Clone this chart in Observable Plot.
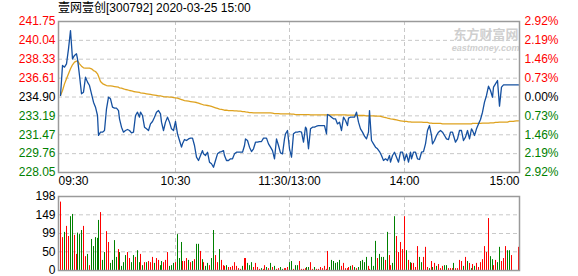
<!DOCTYPE html>
<html><head><meta charset="utf-8">
<script src="https://cdn.jsdelivr.net/npm/d3@7"></script>
<script src="https://cdn.jsdelivr.net/npm/@observablehq/plot@0.6"></script>
<style>
body{margin:0;background:#fff;font-family:"Liberation Sans",Arial,"Noto Sans CJK SC",sans-serif;}
#wrap{position:relative;width:578px;height:276px;overflow:hidden;background:#fff;}
#title{position:absolute;left:58px;top:1px;font-size:12px;line-height:14px;color:#000;white-space:nowrap;font-family:"Liberation Sans",Arial,"Noto Sans CJK SC",sans-serif;}
#price{position:absolute;left:0;top:0;}
#vol{position:absolute;left:0;top:190px;}
</style></head><body>
<div id="wrap"><div id="price"></div><div id="vol"></div><div id="title">壹网壹创[300792] 2020-03-25 15:00</div></div>
<script>
// ---- data ----
const timeLabels = ["09:30","10:30","11:30/13:00","14:00","15:00"];
const timeTickIdx = [0,60,120,180,240];
const priceTicks = [241.75,240.04,238.33,236.61,234.90,233.19,231.47,229.76,228.05];
const pctTicks = ["2.92%","2.19%","1.46%","0.73%","0.00%","0.73%","1.46%","2.19%","2.92%"];
const prevClose = 234.90;
const volTicks = [198,149,99,50,0];

const price = [
235.04,237.76,237.61,237.91,239.27,240.93,238.36,238.67,238.82,238.36,
236.85,235.19,235.34,236.70,236.25,235.94,235.19,234.43,233.98,233.22,
231.41,231.71,231.71,231.86,233.83,234.88,234.73,233.98,233.89,233.89,
233.67,232.92,232.16,231.71,231.86,231.95,231.86,231.65,231.71,233.22,
233.52,233.07,233.52,233.22,232.16,232.01,231.86,232.46,232.68,233.07,
233.52,233.67,233.37,232.62,231.86,232.62,233.07,232.62,232.01,231.86,
232.68,231.56,230.95,230.35,230.65,231.04,230.95,231.10,231.17,231.17,
230.50,229.44,229.14,229.59,230.04,229.74,229.59,229.89,228.99,228.84,
228.53,229.14,229.74,229.89,229.95,230.04,229.59,229.14,229.14,229.29,
229.29,229.74,229.89,229.89,229.89,229.89,230.50,231.10,230.95,230.35,
229.95,230.20,230.80,230.80,230.86,230.86,231.17,231.17,231.17,230.65,
230.35,230.04,229.29,231.10,230.50,229.83,229.74,231.10,231.56,231.86,
230.20,229.44,231.56,231.71,231.71,231.77,231.71,230.80,232.16,232.01,
230.20,232.01,232.16,232.16,232.25,232.31,232.31,232.31,232.31,231.56,
233.31,233.22,233.07,232.92,232.92,232.46,232.62,231.86,233.07,232.77,
232.31,232.98,233.07,233.07,233.07,233.52,232.62,232.01,231.71,231.35,
231.10,231.71,233.67,230.95,230.65,230.35,230.20,229.95,229.59,229.14,
229.29,229.14,229.59,228.99,229.59,229.89,229.44,228.99,229.89,229.89,
229.14,229.74,228.99,229.89,229.29,229.89,229.89,229.29,229.23,229.89,
229.95,230.65,231.86,232.31,231.41,230.65,230.95,231.41,231.71,231.86,
231.71,231.41,231.10,231.04,231.71,231.71,231.41,230.80,231.10,231.86,
231.86,230.95,231.26,231.86,231.10,232.01,231.86,231.41,232.01,232.46,
232.86,233.52,234.43,235.04,235.88,235.49,234.88,235.79,236.09,236.40,
234.07,235.79,236.00,236.00,236.00,236.00,236.00,236.00,236.00,236.00,
236.00];

const avgPrice = [
235.04,235.49,236.09,236.55,237.00,237.46,237.82,238.06,238.15,238.18,
237.91,237.70,237.55,237.52,237.52,237.52,237.46,237.30,237.21,237.00,
236.79,236.31,236.12,236.03,235.94,235.91,235.91,235.88,235.85,235.82,
235.79,235.73,235.70,235.64,235.58,235.55,235.49,235.46,235.40,235.37,
235.34,235.31,235.28,235.25,235.22,235.19,235.16,235.13,235.10,235.07,
235.04,235.01,235.01,234.98,234.94,234.91,234.91,234.88,234.88,234.85,
234.82,234.79,234.73,234.67,234.64,234.58,234.55,234.52,234.49,234.46,
234.43,234.40,234.34,234.28,234.22,234.19,234.16,234.13,234.10,234.04,
233.98,233.92,233.86,233.80,233.77,233.74,233.70,233.70,233.67,233.67,
233.67,233.64,233.64,233.61,233.61,233.58,233.58,233.55,233.52,233.49,
233.49,233.46,233.46,233.46,233.46,233.46,233.46,233.46,233.46,233.46,
233.46,233.43,233.40,233.40,233.40,233.37,233.37,233.37,233.37,233.37,
233.37,233.34,233.34,233.31,233.31,233.31,233.31,233.31,233.31,233.31,
233.31,233.28,233.28,233.28,233.28,233.28,233.28,233.28,233.28,233.28,
233.28,233.28,233.28,233.28,233.28,233.28,233.28,233.28,233.28,233.28,
233.25,233.25,233.25,233.25,233.25,233.22,233.22,233.22,233.22,233.22,
233.19,233.19,233.19,233.19,233.19,233.16,233.16,233.16,233.13,233.07,
233.04,232.98,232.95,232.92,232.89,232.86,232.83,232.77,232.74,232.71,
232.68,232.68,232.65,232.65,232.62,232.62,232.62,232.62,232.62,232.62,
232.59,232.59,232.59,232.53,232.53,232.50,232.50,232.50,232.50,232.50,
232.46,232.46,232.46,232.46,232.46,232.46,232.46,232.46,232.46,232.46,
232.46,232.46,232.46,232.46,232.46,232.46,232.50,232.50,232.50,232.50,
232.50,232.53,232.53,232.53,232.53,232.56,232.56,232.56,232.59,232.59,
232.62,232.62,232.62,232.62,232.62,232.68,232.68,232.68,232.71,232.74,
232.74];

const volume = [
183,88,102,118,91,144,150,94,43,100,
96,107,118,37,43,13,83,64,88,86,
134,155,27,48,104,75,19,27,80,35,
56,48,11,21,40,48,32,21,40,35,
53,21,43,13,21,21,24,21,35,19,
32,27,13,24,21,27,48,11,13,19,
21,96,32,75,24,24,32,27,21,24,
29,70,70,51,29,21,11,19,13,32,
107,40,21,56,27,13,11,13,8,8,
11,21,11,5,3,11,32,32,19,13,
21,8,19,8,3,5,3,13,8,5,
19,8,11,3,5,8,3,5,5,8,
21,
24,3,13,13,24,3,3,5,8,8,
21,3,8,3,3,8,5,11,3,51,
8,27,24,19,21,27,11,19,5,5,
8,11,13,8,5,8,24,27,21,35,
11,3,35,11,78,32,43,35,35,27,
102,40,13,19,144,91,48,75,56,144,
53,27,21,19,19,8,64,35,21,35,
62,8,5,24,8,19,11,16,5,11,
13,13,5,5,5,19,5,5,27,24,
11,35,24,19,5,16,11,19,8,21,
29,64,48,139,37,29,13,27,21,62,
24,32,64,53,53,40,0,0,0,62];

// 1 = up (red), 0 = down (green)
const volUp = [
1,1,0,1,1,0,0,1,1,0,
0,0,1,1,0,1,0,0,0,0,
0,1,0,0,1,1,0,0,0,0,
1,0,0,0,0,1,1,0,0,1,
0,0,1,0,1,0,1,1,1,0,
1,1,0,0,1,1,1,0,0,0,
1,0,0,0,1,1,1,0,1,0,
1,0,0,1,0,1,0,0,1,0,
0,1,1,0,1,1,1,0,1,1,
1,1,1,1,1,0,1,1,0,0,
0,1,1,1,1,0,1,1,0,1,
0,1,0,1,1,0,0,1,1,1,
0,
0,1,0,0,1,1,1,1,0,0,
1,1,0,1,1,1,1,1,1,1,
0,0,0,0,0,0,1,1,1,1,
1,0,1,0,1,0,0,0,0,0,
1,1,0,0,0,1,0,0,0,1,
0,1,1,0,0,1,1,1,1,1,
0,1,0,1,1,1,1,0,0,1,
1,1,0,1,0,1,0,1,1,1,
0,0,1,1,1,0,1,1,1,1,
0,1,0,1,0,1,0,1,1,1,
1,1,1,1,0,0,1,1,0,0,
1,1,1,0,0,1,1,1,1,1];

// ---- build ----
const FONT = "'Liberation Sans', Arial, sans-serif";
const RED = "#ff0000", GREEN = "#008000";
const GRID = "#c8c8c8";
const lvlColor = v => Math.abs(v - prevClose) < 0.005 ? "#000000" : (v > prevClose ? RED : GREEN);
const pdata = price.map((p, i) => ({i, p, a: avgPrice[i]}));
const vdata = volume.map((v, i) => ({i, v, c: volUp[i] ? RED : GREEN}));
const xOpts = {domain: [0, 240], range: [60.3, 518.3], axis: null, round: true};

const pricePlot = Plot.plot({
  width: 578, height: 190,
  marginLeft: 58, marginRight: 59, marginTop: 21, marginBottom: 18,
  style: {fontFamily: FONT, background: "transparent", overflow: "visible"},
  x: xOpts,
  y: {domain: [priceTicks[priceTicks.length - 1], priceTicks[0]], axis: null},
  color: {type: "identity"},
  marks: [
    Plot.ruleY(priceTicks.slice(1, -1), {stroke: GRID, strokeDasharray: "4,3"}),
    Plot.ruleX(timeTickIdx.slice(1, -1), {stroke: GRID, strokeDasharray: "4,3"}),
    Plot.text(["东方财富网"], {frameAnchor: "top-right", dx: -1, dy: 8, text: d => d, fill: "#cfcfcf", fontSize: 13, fontWeight: "bold", textAnchor: "end", fontFamily: "'Noto Sans CJK SC', sans-serif"}),
    Plot.text(["eastmoney.com"], {frameAnchor: "top-right", dx: 0, dy: 23, text: d => d, fill: "#cfcfcf", fontSize: 9, fontWeight: "bold", fontStyle: "italic", textAnchor: "end"}),
    Plot.line(pdata, {x: "i", y: "a", stroke: "#dea21f", strokeWidth: 1.3}),
    Plot.line(pdata, {x: "i", y: "p", stroke: "#1550a0", strokeWidth: 1.3}),
    Plot.frame({stroke: "#9a9a9a", strokeWidth: 1.5}),
    Plot.text(priceTicks, {frameAnchor: "left", y: d => d, text: d => d.toFixed(2), fill: lvlColor, textAnchor: "end", dx: -3, fontSize: 12}),
    Plot.text(priceTicks, {frameAnchor: "right", y: d => d, text: (d, i) => pctTicks[i], fill: lvlColor, textAnchor: "start", dx: 5, fontSize: 12}),
    Plot.text([timeTickIdx[0]], {x: d => d, frameAnchor: "bottom", dy: 12, text: () => timeLabels[0], textAnchor: "start", dx: -2, fontSize: 12, fill: "#000"}),
    Plot.text(timeTickIdx.slice(1, -1), {x: d => d, frameAnchor: "bottom", dy: 12, text: (d, i) => timeLabels[i + 1], textAnchor: "middle", fontSize: 12, fill: "#000"}),
    Plot.text([timeTickIdx[4]], {x: d => d, frameAnchor: "bottom", dy: 12, text: () => timeLabels[4], textAnchor: "end", dx: 1, fontSize: 12, fill: "#000"})
  ]
});
document.getElementById("price").appendChild(pricePlot);

const volPlot = Plot.plot({
  width: 578, height: 86,
  marginLeft: 58, marginRight: 59, marginTop: 6, marginBottom: 6,
  style: {fontFamily: FONT, background: "transparent", overflow: "visible"},
  x: xOpts,
  y: {domain: [0, volTicks[0]], axis: null},
  color: {type: "identity"},
  marks: [
    Plot.ruleY(volTicks.slice(1, -1), {stroke: GRID, strokeDasharray: "4,3"}),
    Plot.ruleX(timeTickIdx.slice(1, -1), {stroke: GRID, strokeDasharray: "4,3"}),
    Plot.ruleX(vdata.filter(d => d.v > 0), {x: "i", y1: 0, y2: "v", stroke: "c", strokeWidth: 1}),
    Plot.frame({stroke: "#9a9a9a", strokeWidth: 1.5}),
    Plot.text(volTicks, {frameAnchor: "left", y: d => d, text: d => String(d), textAnchor: "end", dx: -3, fontSize: 12, fill: "#000"})
  ]
});
document.getElementById("vol").appendChild(volPlot);
</script>
</body></html>
